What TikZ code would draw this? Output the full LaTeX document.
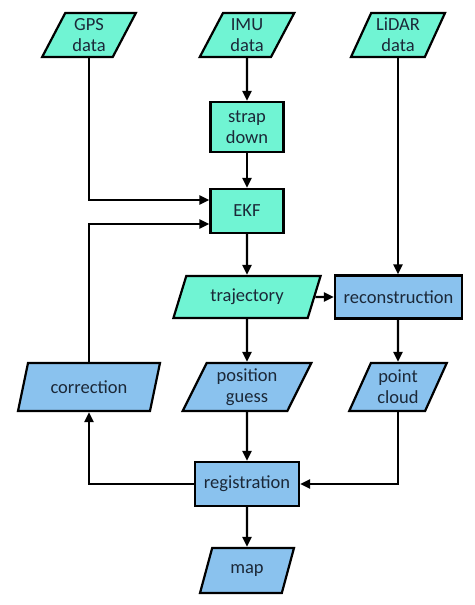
\documentclass[tikz,border=0pt]{standalone}
\usepackage{fontspec}
\setmainfont{Carlito}
\usetikzlibrary{shapes.geometric,arrows.meta}

\definecolor{mint}{HTML}{70F4D3}
\definecolor{sky}{HTML}{8AC2EE}
\definecolor{ink}{HTML}{1B2838}

\tikzset{
    box/.style={draw=black, line width=2.2pt, text=ink, align=center,
        font=\fontsize{18.5}{21}\selectfont, inner sep=0pt},
    databox/.style={box, trapezium, trapezium left angle=64, trapezium right angle=116,
        trapezium stretches=true},
    procbox/.style={box, rectangle},
    flow/.style={line width=2.2pt, ->, >={Triangle[length=10pt,width=9pt]}}
}

\begin{document}
\begin{tikzpicture}[x=1pt, y=-1pt]
    \useasboundingbox (0,0) rectangle (474,605);

    % inputs
    \node[databox, fill=mint, minimum width=94pt, minimum height=44pt] (gps) at (89,35) {GPS\\data};
    \node[databox, fill=mint, minimum width=95pt, minimum height=44pt] (imu) at (247,35) {IMU\\data};
    \node[databox, fill=mint, minimum width=94pt, minimum height=44pt] (lidar) at (398,35) {LiDAR\\data};

    % navigation
    \node[procbox, fill=mint, minimum width=73pt, minimum height=50pt] (strap) at (247,127) {strap\\down};
    \node[procbox, fill=mint, minimum width=73pt, minimum height=44pt] (ekf) at (247,211) {EKF};
    \node[databox, fill=mint, minimum width=148pt, minimum height=42pt] (traj) at (247,297) {trajectory};
    \node[procbox, fill=sky, minimum width=127pt, minimum height=43pt] (recon) at (398.5,297) {reconstruction};

    % mapping
    \node[databox, fill=sky, minimum width=143pt, minimum height=48pt] (corr) at (89,387) {correction};
    \node[databox, fill=sky, minimum width=129pt, minimum height=48pt] (guess) at (247,387) {position\\guess};
    \node[databox, fill=sky, minimum width=98pt, minimum height=48pt] (cloud) at (398,387) {point\\cloud};
    \node[procbox, fill=sky, minimum width=104pt, minimum height=44pt] (reg) at (247,484) {registration};
    \node[databox, fill=sky, minimum width=94pt, minimum height=45pt] (map) at (247,570.5) {map};

    % connectors
    \draw[flow] (imu.south) -- (strap.north);
    \draw[flow] (strap.south) -- (ekf.north);
    \draw[flow] (gps.south) |- ([yshift=11pt]ekf.west);
    \draw[flow] (corr.north) |- ([yshift=-13pt]ekf.west);
    \draw[flow] (ekf.south) -- (traj.north);
    \draw[flow] (traj.east) -- (recon.west);
    \draw[flow] (lidar.south) -- (lidar.south |- recon.north);
    \draw[flow] (lidar.south |- recon.south) -- (cloud.north);
    \draw[flow] (traj.south) -- (guess.north);
    \draw[flow] (guess.south) -- (reg.north);
    \draw[flow] (cloud.south) |- (reg.east);
    \draw[flow] (reg.west) -| (corr.south);
    \draw[flow] (reg.south) -- (map.north);
\end{tikzpicture}
\end{document}
